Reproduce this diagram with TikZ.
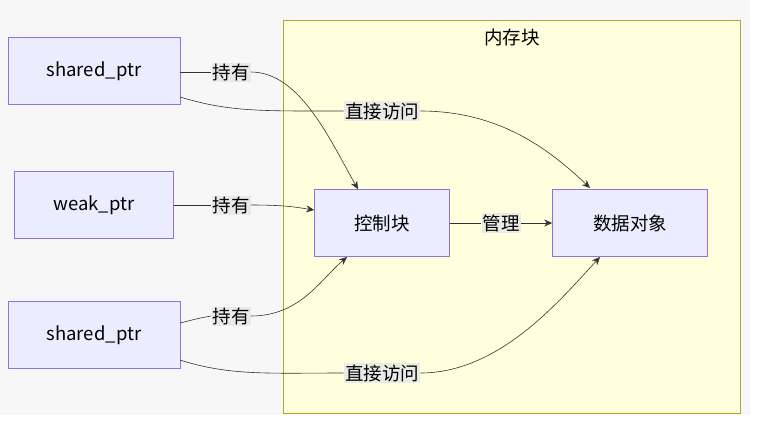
\documentclass[tikz,border=0pt]{standalone}
\usepackage{fontspec}
\setmainfont{Noto Sans CJK SC}
\usetikzlibrary{arrows.meta}
\definecolor{node_fill}{HTML}{ECECFF}
\definecolor{node_edge}{HTML}{9370DB}
\definecolor{grp_fill}{HTML}{FFFFDE}
\definecolor{grp_edge}{HTML}{AAAA33}
\definecolor{lbl_fill}{HTML}{E8E8E8}
\definecolor{line_col}{HTML}{333333}
\begin{document}
\begin{tikzpicture}[x=1pt,y=-1pt,semithick,>={Stealth[length=8pt,width=7pt]}]
    \tikzset{box/.style={draw=node_edge,fill=node_fill,inner sep=0pt,font=\fontsize{18.5}{22}\selectfont},
             elabel/.style={fill=lbl_fill,fill opacity=0.9,text opacity=1,inner sep=1pt,font=\fontsize{18.5}{22}\selectfont},
             link/.style={draw=line_col,->}}
    \useasboundingbox (0,0) rectangle (757,434);
    \fill[white!97!black] (0,0) rectangle (750,415);
    \draw[grp_edge,fill=grp_fill] (283,20) rectangle (740,413);
    \node[font=\fontsize{18.5}{22}\selectfont] (grp) at (512,37) {内存块};

    \node[box,minimum width=172,minimum height=67] (sp1) at (94,71)  {shared\_ptr};
    \node[box,minimum width=159,minimum height=67] (wp)  at (94,205) {weak\_ptr};
    \node[box,minimum width=172,minimum height=67] (sp2) at (94,335) {shared\_ptr};
    \node[box,minimum width=135,minimum height=67] (ctrl) at (382,223) {控制块};
    \node[box,minimum width=155,minimum height=67] (data) at (630,223) {数据对象};

    \node[elabel] (l1) at (231,72)  {持有};
    \node[elabel] (l2) at (382,111) {直接访问};
    \node[elabel] (l3) at (231,205) {持有};
    \node[elabel] (l4) at (231,316) {持有};
    \node[elabel] (l5) at (382,373) {直接访问};
    \node[elabel] (l6) at (501,223) {管理};

    \draw[line_col] (sp1.east |- l1) -- (l1.west);
    \draw[link] (l1.east) .. controls (300,72) and (330,140) .. (ctrl.north -| 358,0);
    \draw[line_col] (180,97) .. controls (230,112) and (260,111) .. (l2.west);
    \draw[link] (l2.east) .. controls (500,111) and (550,150) .. (590,188);
    \draw[line_col] (wp.east) -- (l3.west);
    \draw[link] (l3.east) .. controls (290,205) and (300,208) .. (ctrl.west |- 0,210);
    \draw[line_col] (180,323) .. controls (200,318) .. (l4.west);
    \draw[link] (l4.east) .. controls (300,316) and (320,280) .. (347,257);
    \draw[line_col] (180,360) .. controls (230,376) and (270,373) .. (l5.west);
    \draw[link] (l5.east) .. controls (500,373) and (560,300) .. (600,257);
    \draw[line_col] (ctrl.east) -- (l6.west);
    \draw[link] (l6.east) -- (data.west);
\end{tikzpicture}
\end{document}
